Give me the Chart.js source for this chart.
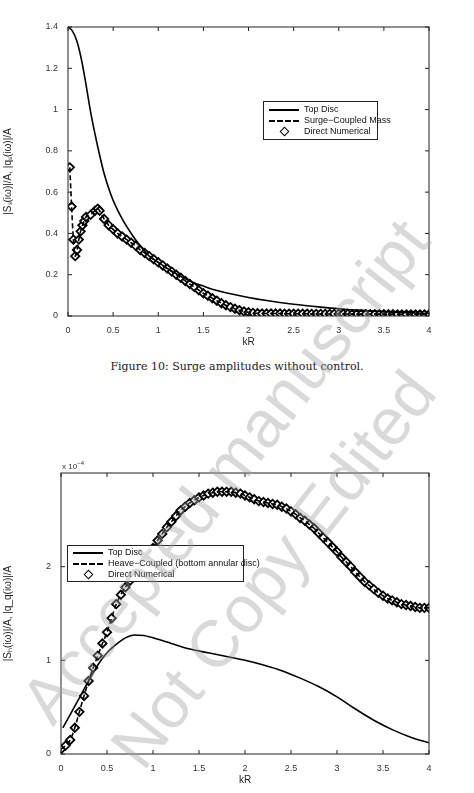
<!DOCTYPE html>
<html><head><meta charset="utf-8">
<script src="https://cdn.jsdelivr.net/npm/chart.js@4"></script>
<style>
body{margin:0;background:#fff;font-family:"Liberation Sans",Arial,sans-serif;}
#w{position:relative;width:474px;height:793px;overflow:hidden}
.c{position:absolute;left:0;width:474px}
.leg{position:absolute;border:1px solid #222;background:#fff;font-size:9px;color:#111}
.leg div{height:11px;line-height:11px;position:relative;padding-left:40px;white-space:nowrap}
.ln{position:absolute;left:5px;top:5px;width:30px;border-top:2px solid #000}
.ds{border-top:2px dashed #000}
.dm{position:absolute;left:17px;top:2px;width:5px;height:5px;border:1.5px solid #000;transform:rotate(45deg)}
.wm{position:absolute;color:rgba(160,160,160,0.4);font-size:66px;transform-origin:left top;white-space:nowrap;pointer-events:none}
</style></head><body><div id="w">
<div class="c" style="top:0;height:348px"><canvas id="c1"></canvas></div>
<div style="position:absolute;top:360px;width:474px;text-align:center;font-family:'DejaVu Serif',serif;font-size:11px;color:#222">Figure 10: Surge amplitudes without control.</div>
<div class="c" style="top:445px;height:341px"><canvas id="c2"></canvas></div>
<div style="position:absolute;left:62px;top:460px;font-size:8px;color:#333">x 10<sup style="font-size:6px">−4</sup></div>
<div class="leg" style="left:263px;top:101px;width:113px;padding:2px 0"><div><span class="ln"></span>Top Disc</div><div><span class="ln ds"></span>Surge−Coupled Mass</div><div><span class="dm"></span>Direct Numerical</div></div>
<div class="leg" style="left:67px;top:545px;width:175px;padding:1px 0"><div><span class="ln"></span>Top Disc</div><div><span class="ln ds"></span>Heave−Coupled (bottom annular disc)</div><div><span class="dm"></span>Direct Numerical</div></div>
<div class="wm" style="left:5px;top:690px;transform:rotate(-52deg)">Accepted manuscript</div>
<div class="wm" style="left:95px;top:735px;transform:rotate(-52deg)">Not Copy Edited</div>
</div>
<script>
// Top chart (surge)
const topDiscX1=[0,0.05,0.1,0.15,0.2,0.25,0.3,0.35,0.4,0.45,0.5,0.6,0.7,0.8,0.9,1.0,1.1,1.2,1.3,1.4,1.5,1.6,1.8,2.0,2.2,2.5,2.8,3.0,3.3,3.6,4.0];
const topDiscY1=[1.40,1.38,1.33,1.24,1.12,0.99,0.88,0.78,0.69,0.62,0.56,0.47,0.40,0.34,0.29,0.26,0.23,0.205,0.18,0.16,0.145,0.13,0.108,0.09,0.075,0.057,0.043,0.035,0.026,0.019,0.012];
const numX1=[0.02,0.04,0.06,0.08,0.10,0.12,0.14,0.16,0.18,0.20,0.25,0.30,0.33,0.35,0.40,0.45,0.50,0.55,0.60,0.65,0.70,0.75,0.80,0.85,0.90,0.95,1.0,1.05,1.1,1.15,1.2,1.25,1.3,1.35,1.4,1.45,1.5,1.55,1.6,1.65,1.7,1.75,1.8,1.85,1.9,1.95,2.0,2.05,2.1,2.15,2.2,2.25,2.3,2.35,2.4,2.45,2.5,2.55,2.6,2.65,2.7,2.75,2.8,2.85,2.9,2.95,3.0,3.05,3.1,3.15,3.2,3.25,3.3,3.35,3.4,3.45,3.5,3.55,3.6,3.65,3.7,3.75,3.8,3.85,3.9,3.95,4.0];
const numY1=[0.72,0.53,0.37,0.29,0.32,0.37,0.41,0.44,0.46,0.48,0.49,0.51,0.52,0.51,0.47,0.44,0.42,0.40,0.385,0.37,0.355,0.34,0.32,0.305,0.29,0.275,0.26,0.245,0.23,0.215,0.20,0.185,0.17,0.155,0.14,0.125,0.11,0.098,0.086,0.074,0.062,0.052,0.043,0.035,0.028,0.022,0.018,0.015,0.013,0.012,0.012,0.012,0.012,0.012,0.011,0.011,0.011,0.011,0.011,0.011,0.010,0.010,0.010,0.010,0.010,0.010,0.010,0.010,0.010,0.009,0.009,0.009,0.009,0.009,0.009,0.009,0.009,0.009,0.009,0.008,0.008,0.008,0.008,0.008,0.008,0.008,0.008];
const yTicks1=[0,0.2,0.4,0.6,0.8,1,1.2,1.4];
// Bottom chart (heave), units of 1e-4
const topDiscX2=[0.02,0.1,0.2,0.3,0.4,0.5,0.6,0.7,0.8,0.9,1.0,1.2,1.4,1.6,1.8,2.0,2.2,2.4,2.6,2.8,3.0,3.2,3.4,3.6,3.8,4.0];
const topDiscY2=[0.28,0.42,0.60,0.78,0.95,1.08,1.17,1.24,1.27,1.265,1.24,1.18,1.12,1.08,1.04,1.0,0.95,0.89,0.81,0.72,0.61,0.48,0.36,0.26,0.18,0.12];
const numX2=[0,0.05,0.1,0.15,0.2,0.25,0.3,0.35,0.4,0.45,0.5,0.55,0.6,0.65,0.7,0.75,0.8,0.85,0.9,0.95,1.0,1.05,1.1,1.15,1.2,1.25,1.3,1.35,1.4,1.45,1.5,1.55,1.6,1.65,1.7,1.75,1.8,1.85,1.9,1.95,2.0,2.05,2.1,2.15,2.2,2.25,2.3,2.35,2.4,2.45,2.5,2.55,2.6,2.65,2.7,2.75,2.8,2.85,2.9,2.95,3.0,3.05,3.1,3.15,3.2,3.25,3.3,3.35,3.4,3.45,3.5,3.55,3.6,3.65,3.7,3.75,3.8,3.85,3.9,3.95,4.0];
const numY2=[0.05,0.09,0.15,0.28,0.45,0.62,0.78,0.92,1.05,1.18,1.30,1.45,1.60,1.70,1.78,1.85,1.92,1.98,2.05,2.12,2.20,2.28,2.35,2.42,2.48,2.54,2.60,2.64,2.68,2.71,2.74,2.76,2.78,2.79,2.80,2.80,2.80,2.80,2.79,2.78,2.76,2.74,2.72,2.70,2.69,2.68,2.67,2.66,2.64,2.62,2.59,2.56,2.52,2.49,2.45,2.41,2.36,2.31,2.26,2.21,2.16,2.10,2.05,2.00,1.94,1.89,1.84,1.80,1.76,1.72,1.69,1.66,1.64,1.62,1.60,1.59,1.58,1.57,1.56,1.56,1.56];
const yTicks2=[0,1,2];
const xTicks=[0,0.5,1,1.5,2,2.5,3,3.5,4];

const pts=(xs,ys)=>xs.map((x,i)=>({x:x,y:ys[i]}));
const boxPlugin={id:'box',afterDraw(c){const a=c.chartArea,g=c.ctx;g.save();g.strokeStyle='#222';g.lineWidth=1;g.strokeRect(a.left,a.top,a.right-a.left,a.bottom-a.top);
 g.beginPath();const xs=c.scales.x,ys=c.scales.y;
 xTicks.forEach(t=>{const p=xs.getPixelForValue(t);g.moveTo(p,a.bottom);g.lineTo(p,a.bottom-4);g.moveTo(p,a.top);g.lineTo(p,a.top+4);});
 ys.ticks.forEach(t=>{const p=ys.getPixelForValue(t.value);g.moveTo(a.left,p);g.lineTo(a.left+4,p);g.moveTo(a.right,p);g.lineTo(a.right-4,p);});
 g.stroke();g.restore();}};
function make(id,dX,dY,nX,nY,yt,ymax,ytitle,yw,pad,xh){
 new Chart(document.getElementById(id),{type:'scatter',plugins:[boxPlugin],
 data:{datasets:[
  {type:'line',data:pts(dX,dY),borderColor:'#000',borderWidth:1.6,pointRadius:0,tension:0.4,cubicInterpolationMode:'monotone'},
  {type:'line',data:pts(nX,nY),borderColor:'#000',borderWidth:1.6,borderDash:[5,3],pointRadius:0,tension:0.3},
  {data:pts(nX,nY),pointStyle:'rectRot',pointRadius:4.2,borderColor:'#000',borderWidth:1.8,backgroundColor:'#fff'}]},
 options:{responsive:true,maintainAspectRatio:false,animation:false,
  layout:{padding:pad},
  plugins:{legend:{display:false},tooltip:{enabled:false}},
  scales:{
   x:{type:'linear',min:0,max:4,afterBuildTicks:s=>{s.ticks=xTicks.map(v=>({value:v}))},
      ticks:{font:{size:9},color:'#333',padding:1,maxRotation:0,callback:v=>String(v)},
      grid:{display:false},border:{display:false},
      title:{display:true,text:'kR',font:{size:10},color:'#222',padding:0},
      afterFit:s=>{s.height=xh}},
   y:{min:0,max:ymax,afterBuildTicks:s=>{s.ticks=yt.map(v=>({value:v}))},
      ticks:{font:{size:9},color:'#333',padding:2,callback:v=>String(v)},
      grid:{display:false},border:{display:false},
      title:{display:true,text:ytitle,font:{size:10},color:'#222',padding:2},
      afterFit:s=>{s.width=yw}}}}});
}
make('c1',topDiscX1,topDiscY1,numX1,numY1,yTicks1,1.4,'|Sₛ(iω)|/A, |qₛ(iω)|/A',68,{top:27,right:45,left:0,bottom:0},32);
make('c2',topDiscX2,topDiscY2,numX2,numY2,yTicks2,3,'|Sₕ(iω)|/A, |q_q(iω)|/A',61,{top:28,right:45,left:0,bottom:0},32);
</script></body></html>
